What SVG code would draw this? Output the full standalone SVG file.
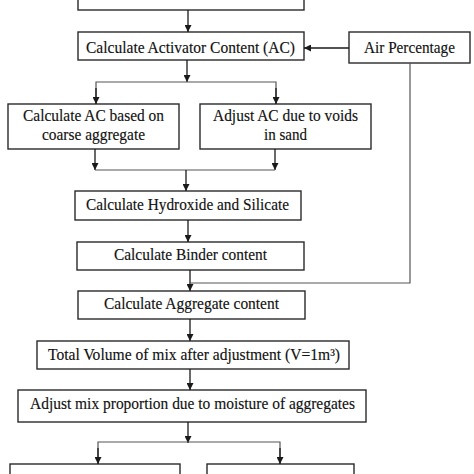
<svg xmlns="http://www.w3.org/2000/svg" width="474" height="474" viewBox="0 0 474 474">
<defs>
<marker id="ah" viewBox="0 0 10 10" refX="10" refY="5" markerWidth="7" markerHeight="7" markerUnits="userSpaceOnUse" orient="auto">
<path d="M0,0 L10,5 L0,10 Z" fill="#1a1a1a"/>
</marker>
</defs>
<style>
.box{fill:#fff;stroke:#2a2a2a;stroke-width:1.4}
.t{font-family:"Liberation Serif","Times New Roman",serif;font-size:16.5px;fill:#111;stroke:#111;stroke-width:0.15}
.c{fill:none;stroke:#1a1a1a;stroke-width:1.3}
.g{fill:none;stroke:#555;stroke-width:1.2}
</style>
<rect width="474" height="474" fill="#fff"/>
<g id="n0"><rect class="box" x="78" y="-20" width="226" height="30"/></g>
<g id="n1"><rect class="box" x="78" y="32" width="226" height="28"/><text class="t" x="86" y="53" textLength="209" lengthAdjust="spacingAndGlyphs">Calculate Activator Content (AC)</text></g>
<g id="n2"><rect class="box" x="349" y="32" width="121" height="31"/><text class="t" x="364" y="53" textLength="91" lengthAdjust="spacingAndGlyphs">Air Percentage</text></g>
<g id="n3"><rect class="box" x="8" y="104" width="171" height="45"/><text class="t" x="23" y="121" textLength="141" lengthAdjust="spacingAndGlyphs">Calculate AC based on</text><text class="t" x="42" y="140" textLength="103" lengthAdjust="spacingAndGlyphs">coarse aggregate</text></g>
<g id="n4"><rect class="box" x="200" y="104" width="171" height="45"/><text class="t" x="213" y="121" textLength="145" lengthAdjust="spacingAndGlyphs">Adjust AC due to voids</text><text class="t" x="264" y="140" textLength="43" lengthAdjust="spacingAndGlyphs">in sand</text></g>
<g id="n5"><rect class="box" x="75" y="191" width="226" height="29"/><text class="t" x="86" y="210" textLength="203" lengthAdjust="spacingAndGlyphs">Calculate Hydroxide and Silicate</text></g>
<g id="n6"><rect class="box" x="77" y="242" width="227" height="28"/><text class="t" x="114" y="260" textLength="153" lengthAdjust="spacingAndGlyphs">Calculate Binder content</text></g>
<g id="n7"><rect class="box" x="78" y="291" width="227" height="28"/><text class="t" x="104" y="309" textLength="175" lengthAdjust="spacingAndGlyphs">Calculate Aggregate content</text></g>
<g id="n8"><rect class="box" x="37" y="341" width="312" height="28"/><text class="t" x="48" y="360" textLength="292" lengthAdjust="spacingAndGlyphs">Total Volume of mix after adjustment (V=1m³)</text></g>
<g id="n9"><rect class="box" x="18" y="390" width="348" height="32"/><text class="t" x="30" y="409" textLength="325" lengthAdjust="spacingAndGlyphs">Adjust mix proportion due to moisture of aggregates</text></g>
<g id="n10"><rect class="box" x="10" y="464" width="170" height="30"/></g>
<g id="n11"><rect class="box" x="207" y="464" width="147" height="30"/></g>
<g id="connectors">
<line class="c" x1="188" y1="10" x2="188" y2="32" marker-end="url(#ah)"/>
<line class="c" x1="349" y1="48" x2="304" y2="48" marker-end="url(#ah)"/>
<line class="c" x1="187" y1="60" x2="187" y2="82" marker-end="url(#ah)"/>
<polyline class="g" points="96,104 96,82 276,82 276,104"/>
<line class="c" x1="96" y1="88" x2="96" y2="104" marker-end="url(#ah)"/>
<line class="c" x1="276" y1="88" x2="276" y2="104" marker-end="url(#ah)"/>
<line class="c" x1="95" y1="149" x2="95" y2="170" marker-end="url(#ah)"/>
<line class="c" x1="275" y1="149" x2="275" y2="170" marker-end="url(#ah)"/>
<line class="g" x1="95" y1="170" x2="275" y2="170"/>
<line class="c" x1="186" y1="170" x2="186" y2="191" marker-end="url(#ah)"/>
<line class="c" x1="188" y1="220" x2="188" y2="242" marker-end="url(#ah)"/>
<line class="c" x1="190" y1="270" x2="190" y2="291" marker-end="url(#ah)"/>
<polyline class="g" points="410,63 410,283 190,283"/>
<line class="c" x1="190" y1="319" x2="190" y2="341" marker-end="url(#ah)"/>
<line class="c" x1="190" y1="369" x2="190" y2="390" marker-end="url(#ah)"/>
<line class="c" x1="188" y1="422" x2="188" y2="443" marker-end="url(#ah)"/>
<polyline class="g" points="98,464 98,442 280,442 280,464"/>
<line class="c" x1="98" y1="448" x2="98" y2="464" marker-end="url(#ah)"/>
<line class="c" x1="280" y1="448" x2="280" y2="464" marker-end="url(#ah)"/>
</g>
</svg>
